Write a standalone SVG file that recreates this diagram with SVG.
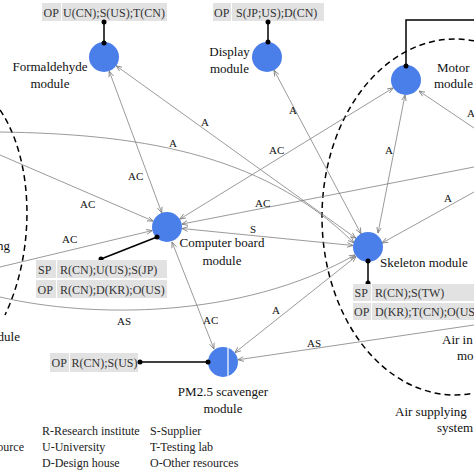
<svg xmlns="http://www.w3.org/2000/svg" width="474" height="474" viewBox="0 0 474 474">
<style>
.node{fill:#4a7ee8}
.e{fill:none;stroke:#808080;stroke-width:0.8}
.stem{fill:none;stroke:#000;stroke-width:1.5}
.dash{fill:none;stroke:#000;stroke-width:1.5;stroke-dasharray:6 4}
.lbl{font-family:"Liberation Serif","Times New Roman",serif;font-size:13px;fill:#111}
.el{font-family:"Liberation Serif","Times New Roman",serif;font-size:11px;fill:#111}
.tt{font-family:"Liberation Serif","Times New Roman",serif;font-size:12px;fill:#333}
.cell{fill:#e2e2e2}
.leg{font-family:"Liberation Serif","Times New Roman",serif;font-size:12px;fill:#222}
</style>
<defs>
<marker id="ah" viewBox="0 0 10 10" refX="10" refY="5" markerWidth="6" markerHeight="6" orient="auto-start-reverse" markerUnits="userSpaceOnUse">
<path d="M0,1 L10,5 L0,9" fill="none" stroke="#777" stroke-width="1.3"/>
</marker>
</defs>
<rect width="474" height="474" fill="#fff"/>
<!-- dashed boundaries -->
<path class="dash" d="M0,110 C34,160 36,250 5,315"/>
<ellipse class="dash" cx="455" cy="217" rx="133" ry="178"/>
<g id="connectors">
<line class="e" x1="109.2" y1="71.1" x2="161.8" y2="212.9" marker-start="url(#ah)" marker-end="url(#ah)"/>
<line class="e" x1="116.2" y1="65.8" x2="355.8" y2="238.2" marker-start="url(#ah)" marker-end="url(#ah)"/>
<path class="e" d="M0,132 C130,134 260,150 354,243" marker-end="url(#ah)"/>
<line class="e" x1="274" y1="70.2" x2="361" y2="233.8" marker-start="url(#ah)" marker-end="url(#ah)"/>
<line class="e" x1="179.8" y1="219.1" x2="393.2" y2="87.9" marker-start="url(#ah)" marker-end="url(#ah)"/>
<line class="e" x1="405" y1="95" x2="378" y2="233" marker-start="url(#ah)" marker-end="url(#ah)"/>
<line class="e" x1="474" y1="128" x2="419" y2="91" marker-end="url(#ah)"/>
<line class="e" x1="474" y1="192" x2="382" y2="243" marker-end="url(#ah)"/>
<line class="e" x1="474" y1="167" x2="181.7" y2="224.1" marker-end="url(#ah)"/>
<line class="e" x1="181.9" y1="228.5" x2="353.1" y2="245.5" marker-start="url(#ah)" marker-end="url(#ah)"/>
<line class="e" x1="234.8" y1="352.7" x2="356.2" y2="256.3" marker-start="url(#ah)" marker-end="url(#ah)"/>
<path class="e" d="M0,297 C90,318 240,320 355,255" marker-end="url(#ah)"/>
<line class="e" x1="474" y1="325" x2="237.8" y2="359.8" marker-end="url(#ah)"/>
<line class="e" x1="0" y1="267" x2="152.4" y2="230.5" marker-end="url(#ah)"/>
<line class="e" x1="0" y1="155" x2="153.2" y2="221.1" marker-end="url(#ah)"/>
<line class="e" x1="172" y1="242" x2="214" y2="349" marker-start="url(#ah)" marker-end="url(#ah)"/>
</g>
<g id="edge-labels">
<text class="el" x="128" y="180">AC</text>
<text class="el" x="201" y="126">A</text>
<text class="el" x="169" y="147">A</text>
<text class="el" x="289" y="114">A</text>
<text class="el" x="269" y="154">AC</text>
<text class="el" x="385" y="154">A</text>
<text class="el" x="467" y="117">A</text>
<text class="el" x="444" y="202">A</text>
<text class="el" x="255" y="207">AC</text>
<text class="el" x="250" y="233">S</text>
<text class="el" x="272" y="314">A</text>
<text class="el" x="117" y="325">AS</text>
<text class="el" x="307" y="347">AS</text>
<text class="el" x="62" y="243">AC</text>
<text class="el" x="80" y="208">AC</text>
<text class="el" x="203" y="324">AC</text>
</g>
<g id="formaldehyde">
<rect class="cell" x="42" y="3" width="19" height="18"/>
<rect class="cell" x="62" y="3" width="105" height="18"/>
<text class="tt" x="43.5" y="16.5">OP</text>
<text class="tt" x="63" y="16.5">U(CN);S(US);T(CN)</text>
<line class="stem" x1="104" y1="22" x2="104" y2="43"/>
<circle cx="104" cy="22" r="2.5"/>
<circle class="node" cx="104" cy="57" r="15"/>
<circle cx="104" cy="43" r="2.5"/>
<text class="lbl" x="50" y="71" text-anchor="middle">Formaldehyde</text>
<text class="lbl" x="50" y="88" text-anchor="middle">module</text>
</g>
<g id="display">
<rect class="cell" x="213" y="3" width="18" height="18"/>
<rect class="cell" x="232" y="3" width="92" height="18"/>
<text class="tt" x="214" y="16.5">OP</text>
<text class="tt" x="236" y="16.5">S(JP;US);D(CN)</text>
<line class="stem" x1="268" y1="22" x2="268" y2="42"/>
<circle cx="268" cy="22" r="2.5"/>
<circle class="node" cx="267" cy="57" r="15"/>
<circle cx="268" cy="42" r="2.5"/>
<text class="lbl" x="229.5" y="56" text-anchor="middle">Display</text>
<text class="lbl" x="229.5" y="73" text-anchor="middle">module</text>
</g>
<g id="motor">
<polyline class="stem" points="406,66 406,20 474,20"/>
<circle class="node" cx="406" cy="80" r="15"/>
<circle cx="406" cy="66" r="2.5"/>
<text class="lbl" x="437" y="72">Motor</text>
<text class="lbl" x="434" y="88">module</text>
</g>
<g id="computer-board">
<line class="stem" x1="157" y1="237" x2="101" y2="259"/>
<circle class="node" cx="167" cy="227" r="15"/>
<circle cx="157" cy="237" r="2.5"/>
<circle cx="101" cy="259" r="2.5"/>
<rect class="cell" x="36" y="260" width="20" height="18"/>
<rect class="cell" x="57" y="260" width="110" height="18"/>
<rect class="cell" x="36" y="280" width="20" height="18"/>
<rect class="cell" x="57" y="280" width="110" height="18"/>
<text class="tt" x="38" y="273.5">SP</text>
<text class="tt" x="60" y="273.5">R(CN);U(US);S(JP)</text>
<text class="tt" x="37.5" y="293.5">OP</text>
<text class="tt" x="60" y="293.5">R(CN);D(KR);O(US)</text>
<text class="lbl" x="222" y="247" text-anchor="middle">Computer board</text>
<text class="lbl" x="222" y="265" text-anchor="middle">module</text>
</g>
<g id="skeleton">
<line class="stem" x1="368" y1="261" x2="368" y2="283"/>
<circle class="node" cx="368" cy="247" r="15"/>
<circle cx="368" cy="261" r="2.5"/>
<circle cx="368" cy="283" r="2.5"/>
<rect class="cell" x="353" y="284" width="18" height="17"/>
<rect class="cell" x="372" y="284" width="102" height="17"/>
<rect class="cell" x="353" y="303" width="18" height="17"/>
<rect class="cell" x="372" y="303" width="102" height="17"/>
<text class="tt" x="354.5" y="297">SP</text>
<text class="tt" x="375" y="297">R(CN);S(TW)</text>
<text class="tt" x="354" y="316">OP</text>
<text class="tt" x="375" y="316">D(KR);T(CN);O(US)</text>
<text class="lbl" x="380" y="267">Skeleton module</text>
</g>
<g id="pm25">
<rect class="cell" x="50" y="353" width="19" height="19"/>
<rect class="cell" x="70" y="353" width="68" height="19"/>
<text class="tt" x="51.5" y="367">OP</text>
<text class="tt" x="71.5" y="367">R(CN);S(US)</text>
<line class="stem" x1="140" y1="362" x2="208" y2="362"/>
<circle cx="140" cy="362" r="2.5"/>
<circle class="node" cx="223" cy="362" r="15"/>
<line x1="228" y1="347" x2="228" y2="377" stroke="#fff" stroke-width="1.2"/>
<circle cx="208" cy="362" r="2.5"/>
<text class="lbl" x="223" y="396" text-anchor="middle">PM2.5 scavenger</text>
<text class="lbl" x="223" y="413" text-anchor="middle">module</text>
</g>
<g id="clipped-labels">
<text class="lbl" x="10" y="250" text-anchor="end">ng</text>
<text class="lbl" x="20" y="341" text-anchor="end">dule</text>
<text class="lbl" x="442" y="344">Air in</text>
<text class="lbl" x="457" y="360">mo</text>
<text class="lbl" x="395" y="416">Air supplying</text>
<text class="lbl" x="437" y="432">system</text>
</g>
<g id="legend">
<text class="leg" x="24" y="451" text-anchor="end">ource</text>
<text class="leg" x="42" y="435">R-Research institute</text>
<text class="leg" x="42" y="451">U-University</text>
<text class="leg" x="42" y="467">D-Design house</text>
<text class="leg" x="150" y="435">S-Supplier</text>
<text class="leg" x="150" y="451">T-Testing lab</text>
<text class="leg" x="150" y="467">O-Other resources</text>
</g>
</svg>
